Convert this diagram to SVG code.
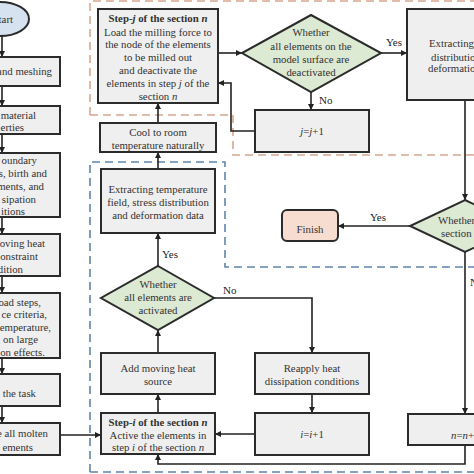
<svg xmlns="http://www.w3.org/2000/svg" width="474" height="474" viewBox="0 0 474 474">
<style>
text{font-family:"Liberation Serif","Times New Roman",serif;font-size:10.8px;fill:#333}
.c{text-anchor:middle}
.e{text-anchor:end}
.b{font-weight:bold}
.box{fill:#efefef;stroke:#2b2b2b;stroke-width:2}
.dia{fill:#dce9d3;stroke:#2b2b2b;stroke-width:2}
.ln{fill:none;stroke:#222;stroke-width:1.6;marker-end:url(#ah)}
.lbl{font-size:11px;fill:#222}
.od{fill:none;stroke:#d6a890;stroke-width:1.6;stroke-dasharray:8 5}
.bd{fill:none;stroke:#5f84ad;stroke-width:1.6;stroke-dasharray:8 5}
</style>
<defs>
<marker id="ah" markerWidth="6" markerHeight="6" refX="6" refY="3" orient="auto" markerUnits="userSpaceOnUse">
<path d="M0,0 L6,3 L0,6 z" fill="#222"/>
</marker>
</defs>
<rect width="474" height="474" fill="#fff"/>
<g id="regions">
<path class="od" d="M90,115 V1 H474 M90,115 H233 V155 H474"/>
<path class="bd" d="M90,472 V162 H225 V267 H474 M90,472 H474"/>
</g>
<g id="connectors">
<path class="ln" d="M2,36 V57"/>
<path class="ln" d="M2,86 V106"/>
<path class="ln" d="M2,134 V153"/>
<path class="ln" d="M2,217 V234"/>
<path class="ln" d="M2,276 V293"/>
<path class="ln" d="M2,358 V374"/>
<path class="ln" d="M2,406 V423"/>
<path class="ln" d="M60,435 H101"/>
<path class="ln" d="M158,413 V394"/>
<path class="ln" d="M158,353 V330"/>
<path class="ln" d="M158,266 V233"/>
<path class="ln" d="M158,169 V152"/>
<path class="ln" d="M158,123 V103"/>
<path class="ln" d="M218,53 H242"/>
<path class="ln" d="M311,92 V110"/>
<path class="ln" d="M255,131 H231 V83 H218"/>
<path class="ln" d="M381,53 H407"/>
<path class="ln" d="M465,100 V200"/>
<path class="ln" d="M410,226 H338"/>
<path class="ln" d="M465,252 V414"/>
<path class="ln" d="M465,445 V464 H158 V454"/>
<path class="ln" d="M214,298 H312 V353"/>
<path class="ln" d="M312,394 V413"/>
<path class="ln" d="M255,434 H215"/>
<text class="lbl" x="386" y="46">Yes</text>
<text class="lbl" x="319" y="104">No</text>
<text class="lbl" x="370" y="221">Yes</text>
<text class="lbl" x="470" y="286">No</text>
<text class="lbl" x="223" y="294">No</text>
<text class="lbl" x="162" y="258">Yes</text>
</g>
<g id="start">
<ellipse cx="0" cy="19" rx="29" ry="17" fill="#d6e2f0" stroke="#2b2b2b" stroke-width="2"/>
<text class="e" x="13" y="23">Start</text>
</g>
<g id="mesh">
<rect class="box" x="-60" y="57" width="120" height="29"/>
<text class="e" x="52" y="75">and meshing</text>
</g>
<g id="material">
<rect class="box" x="-60" y="106" width="120" height="28"/>
<text class="e" x="36" y="119">material</text>
<text class="e" x="24" y="131">erties</text>
</g>
<g id="boundary">
<rect class="box" x="-60" y="153" width="120" height="64"/>
<text class="e" x="37" y="164">oundary</text>
<text class="e" x="47" y="177">s, birth and</text>
<text class="e" x="44" y="190">ments, and</text>
<text class="e" x="36" y="203">sipation</text>
<text class="e" x="25" y="215">itions</text>
</g>
<g id="heat">
<rect class="box" x="-60" y="234" width="120" height="42"/>
<text class="e" x="45" y="247">oving heat</text>
<text class="e" x="38" y="260">onstraint</text>
<text class="e" x="23" y="273">dition</text>
</g>
<g id="loadsteps">
<rect class="box" x="-60" y="293" width="120" height="65"/>
<text class="e" x="41" y="306">oad steps,</text>
<text class="e" x="47" y="318">ce criteria,</text>
<text class="e" x="51" y="331">emperature,</text>
<text class="e" x="38" y="343">, on large</text>
<text class="e" x="45" y="356">on effects.</text>
</g>
<g id="task">
<rect class="box" x="-60" y="374" width="120" height="32"/>
<text class="e" x="36" y="397">the task</text>
</g>
<g id="molten">
<rect class="box" x="-60" y="423" width="120" height="32"/>
<text class="e" x="48" y="437">e all molten</text>
<text class="e" x="33" y="451">ements</text>
</g>
<g id="stepj">
<rect class="box" x="98" y="9" width="120" height="94"/>
<text class="c b" x="158" y="22">Step-<tspan font-style="italic">j</tspan> of the section <tspan font-style="italic">n</tspan></text>
<text class="c" x="158" y="36">Load the milling force to</text>
<text class="c" x="158" y="48">the node of the elements</text>
<text class="c" x="158" y="61">to be milled out</text>
<text class="c" x="158" y="74">and deactivate the</text>
<text class="c" x="158" y="87">elements in step <tspan font-style="italic">j</tspan> of the</text>
<text class="c" x="158" y="100">section <tspan font-style="italic">n</tspan></text>
</g>
<g id="cool">
<rect class="box" x="100" y="123" width="116" height="29"/>
<text class="c" x="158" y="136">Cool to room</text>
<text class="c" x="158" y="149">temperature naturally</text>
</g>
<g id="extract1">
<rect class="box" x="101" y="169" width="114" height="64"/>
<text class="c" x="158" y="193">Extracting temperature</text>
<text class="c" x="158" y="206">field, stress distribution</text>
<text class="c" x="158" y="219">and deformation data</text>
</g>
<g id="activated">
<polygon class="dia" points="158,266 214,298 158,330 101,298"/>
<text class="c" x="158" y="288">Whether</text>
<text class="c" x="158" y="301">all elements are</text>
<text class="c" x="158" y="314">activated</text>
</g>
<g id="addheat">
<rect class="box" x="101" y="353" width="114" height="41"/>
<text class="c" x="158" y="372">Add moving heat</text>
<text class="c" x="158" y="385">source</text>
</g>
<g id="stepi">
<rect class="box" x="101" y="413" width="114" height="41"/>
<text class="c b" x="158" y="426">Step-<tspan font-style="italic">i</tspan> of the section <tspan font-style="italic">n</tspan></text>
<text class="c" x="158" y="439">Active the elements in</text>
<text class="c" x="158" y="451">step <tspan font-style="italic">i</tspan> of the section <tspan font-style="italic">n</tspan></text>
</g>
<g id="deactivated">
<polygon class="dia" points="311,15 381,53 311,92 242,53"/>
<text class="c" x="311" y="36">Whether</text>
<text class="c" x="311" y="50">all elements on the</text>
<text class="c" x="311" y="63">model surface are</text>
<text class="c" x="311" y="76">deactivated</text>
</g>
<g id="jinc">
<rect class="box" x="255" y="110" width="114" height="42"/>
<text class="c" x="312" y="135"><tspan font-style="italic">j</tspan>=<tspan font-style="italic">j</tspan>+1</text>
</g>
<g id="reapply">
<rect class="box" x="255" y="353" width="114" height="41"/>
<text class="c" x="312" y="372">Reapply heat</text>
<text class="c" x="312" y="385">dissipation conditions</text>
</g>
<g id="iinc">
<rect class="box" x="255" y="413" width="114" height="42"/>
<text class="c" x="312" y="438"><tspan font-style="italic">i</tspan>=<tspan font-style="italic">i</tspan>+1</text>
</g>
<g id="finish">
<rect x="282" y="210" width="56" height="31" rx="5" fill="#f6ddd0" stroke="#2b2b2b" stroke-width="2"/>
<text class="c" x="310" y="233">Finish</text>
</g>
<g id="extract2">
<rect class="box" x="407" y="9" width="80" height="91"/>
<text x="429" y="47">Extracting</text>
<text x="431" y="61">distributio</text>
<text x="428" y="72">deformatio</text>
</g>
<g id="lastsection">
<polygon class="dia" points="465,200 520,226 465,252 410,226"/>
<text x="438" y="224">Whether</text>
<text x="441" y="237">section</text>
</g>
<g id="ninc">
<rect class="box" x="408" y="414" width="80" height="31"/>
<text x="451" y="439"><tspan font-style="italic">n</tspan>=<tspan font-style="italic">n</tspan>+1</text>
</g>
</svg>
